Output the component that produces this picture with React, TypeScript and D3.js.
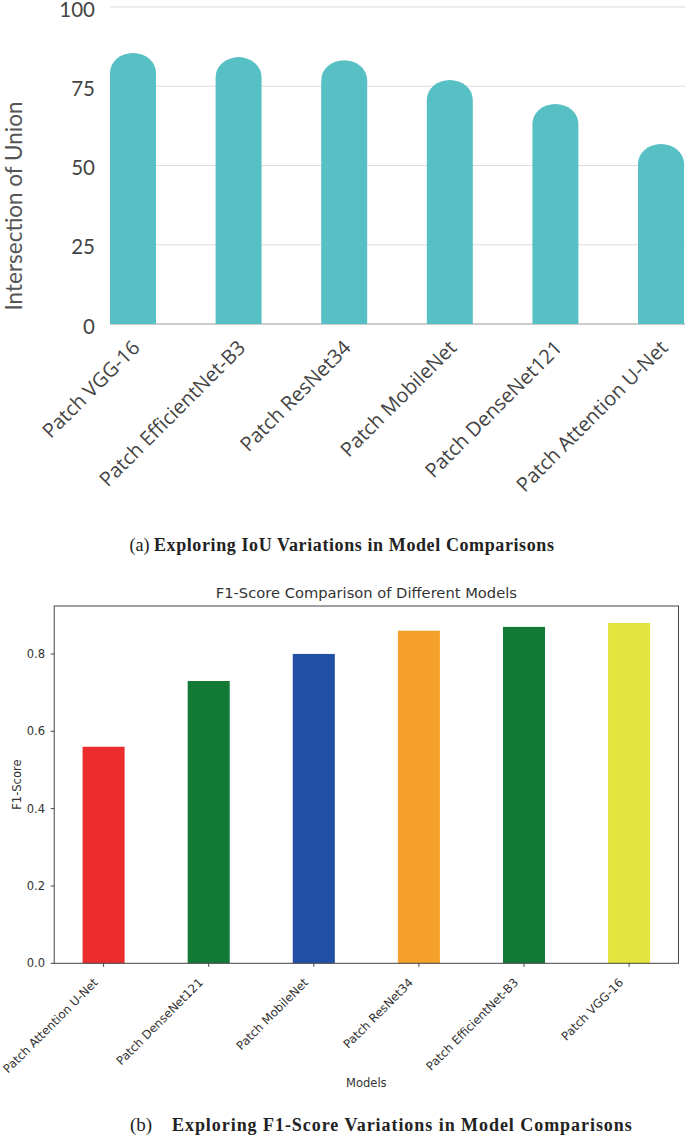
import React from "react";
import * as d3 from "d3";

// ---- Chart (a): IoU ----
const iouModels = [
  "Patch VGG-16",
  "Patch EfficientNet-B3",
  "Patch ResNet34",
  "Patch MobileNet",
  "Patch DenseNet121",
  "Patch Attention U-Net",
];
const iouValues = [85.5, 84.2, 83.2, 77.0, 69.4, 56.8];
const iouTicks = [0, 25, 50, 75, 100];

// ---- Chart (b): F1 ----
const f1Models = [
  "Patch Attention U-Net",
  "Patch DenseNet121",
  "Patch MobileNet",
  "Patch ResNet34",
  "Patch EfficientNet-B3",
  "Patch VGG-16",
];
const f1Values = [0.56, 0.73, 0.8, 0.86, 0.87, 0.88];
const f1Colors = ["#EC2D2E", "#137A35", "#214FA3", "#F5A02A", "#137A35", "#E3E43D"];
const f1Ticks = [0, 0.2, 0.4, 0.6, 0.8];

export default function App() {
  // chart a scales
  const xA = d3.scaleBand<string>().domain(iouModels).range([50.4, 743.6]).paddingInner(0.5644).paddingOuter(0.5644);
  const yA = d3.scaleLinear().domain([0, 100]).range([324, 7]);
  const bwA = xA.bandwidth();
  const gridStart = xA(iouModels[0])!;
  const ry = 20;

  // chart b scales
  const axL = 54.2, axR = 678.5, axT = 606, axB = 963.3;
  const xB = d3.scaleLinear().domain([-0.47, 5.47]).range([axL, axR]);
  const yB = d3.scaleLinear().domain([0, 0.924]).range([axB, axT]);
  const bwB = xB(0.4) - xB(0);

  const barPath = (x: number, w: number, top: number, base: number) =>
    `M${x},${base}L${x},${top + ry}A${w / 2},${ry} 0 0 1 ${x + w},${top + ry}L${x + w},${base}Z`;

  return (
    <svg width={685} height={1137} style={{ position: "absolute", left: 0, top: 0, background: "#fff" }}>
      {/* ===== Chart (a) ===== */}
      <g>
        {iouTicks.map((t) => (
          <line key={t} x1={gridStart} x2={685} y1={yA(t)} y2={yA(t)} stroke={t === 0 ? "#999" : "#dcdcdc"} strokeWidth={1.2} />
        ))}
        {iouModels.map((m, i) => (
          <path key={m} d={barPath(xA(m)!, bwA, yA(iouValues[i]), yA(0))} fill="#57C0C5" />
        ))}
        {iouTicks.map((t) => (
          <text key={t} x={95} y={yA(t)} dy="0.47em" textAnchor="end" fontFamily="Lato" fontSize={20.5} fill="#444">
            {t}
          </text>
        ))}
        <text transform={`translate(22,${206}) rotate(-90)`} textAnchor="middle" fontFamily="Lato" fontSize={22.5} fill="#555">
          Intersection of Union
        </text>
        {iouModels.map((m) => {
          const cx = xA(m)! + bwA / 2 + 8;
          const cy = 349;
          return (
            <text key={m} transform={`translate(${cx},${cy}) rotate(-45)`} textAnchor="end" fontFamily="Open Sans" fontSize={20} fill="#444">
              {m}
            </text>
          );
        })}
        <text x={342} y={551} textAnchor="middle" fontFamily="Liberation Serif" fontSize={18} fill="#222">
          <tspan>(a) </tspan>
          <tspan fontWeight="bold" letterSpacing={0.6}>Exploring IoU Variations in Model Comparisons</tspan>
        </text>
      </g>

      {/* ===== Chart (b) ===== */}
      <g fontFamily="DejaVu Sans">
        <text x={(axL + axR) / 2} y={598} textAnchor="middle" fontSize={14.7} fill="#333">
          F1-Score Comparison of Different Models
        </text>
        {f1Models.map((m, i) => (
          <rect key={m} x={xB(i) - bwB / 2} y={yB(f1Values[i])} width={bwB} height={axB - yB(f1Values[i])} fill={f1Colors[i]} />
        ))}
        <rect x={axL} y={axT} width={axR - axL} height={axB - axT} fill="none" stroke="#444" strokeWidth={1} />
        {f1Ticks.map((t) => (
          <g key={t}>
            <line x1={axL - 3.5} x2={axL} y1={yB(t)} y2={yB(t)} stroke="#444" />
            <text x={axL - 9.2} y={yB(t)} dy="0.36em" textAnchor="end" fontSize={11.5} fill="#333">
              {t.toFixed(1)}
            </text>
          </g>
        ))}
        {f1Models.map((m, i) => (
          <g key={m}>
            <line x1={xB(i)} x2={xB(i)} y1={axB} y2={axB + 3.5} stroke="#444" />
            <text transform={`translate(${xB(i) - 5},${axB + 20}) rotate(-45)`} textAnchor="end" fontSize={11.8} fill="#333">
              {m}
            </text>
          </g>
        ))}
        <text x={(axL + axR) / 2} y={1087} textAnchor="middle" fontSize={11.5} fill="#333">
          Models
        </text>
        <text transform={`translate(21,${(axT + axB) / 2}) rotate(-90)`} textAnchor="middle" fontSize={11.5} fill="#333">
          F1-Score
        </text>
      </g>
      <text x={130} y={1131} fontFamily="Liberation Serif" fontSize={18} fill="#222">
        <tspan fontSize={19}>(b)</tspan>
        <tspan x={172} fontWeight="bold" letterSpacing={0.95}>Exploring F1-Score Variations in Model Comparisons</tspan>
      </text>
    </svg>
  );
}
